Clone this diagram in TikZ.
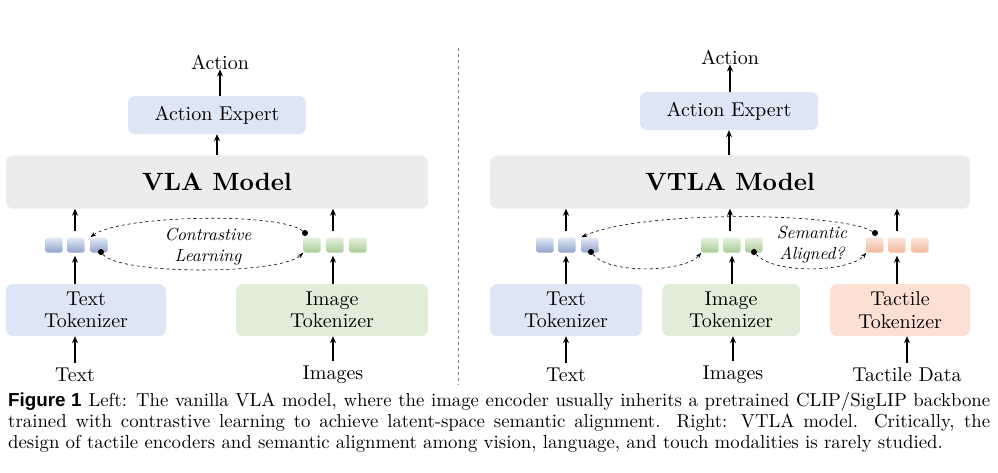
\documentclass[tikz,border=0pt]{standalone}
\usepackage{fontspec}
\setmainfont{lmroman10-regular.otf}[BoldFont=lmroman10-bold.otf,ItalicFont=lmroman10-italic.otf,BoldItalicFont=lmroman10-bolditalic.otf]
\newfontfamily\capsans{Liberation Sans}
\usetikzlibrary{arrows.meta}
\definecolor{bxblue}{HTML}{DDE6F4}
\definecolor{bxgreen}{HTML}{E0EDD8}
\definecolor{bxorange}{HTML}{FBE0D3}
\definecolor{bxgray}{HTML}{ECECEC}
\definecolor{cbT}{HTML}{E4EAF6}\definecolor{cbB}{HTML}{8FA3CC}
\definecolor{cgT}{HTML}{E6F2DE}\definecolor{cgB}{HTML}{A9CD97}
\definecolor{coT}{HTML}{FCE6DA}\definecolor{coB}{HTML}{F2B899}
\begin{document}
\begin{tikzpicture}[x=1pt,y=-1pt,
 box/.style={rounded corners=7pt,draw=none,align=center,font=\fontsize{20}{22.5}\selectfont},
 lab/.style={font=\fontsize{20}{22}\selectfont,inner sep=0},
 up/.style={-{Stealth[length=7pt,width=6pt]},line width=1.5pt},
 dsh/.style={dashed,line width=0.6pt,-{Stealth[length=6pt,width=4pt]}},
 dot/.style={circle,fill=black,inner sep=0,minimum size=6pt},
 cb/.style={rounded corners=2pt,minimum width=17pt,minimum height=15pt,inner sep=0},
 cblue/.style={cb,top color=cbT,bottom color=cbB},
 cgreen/.style={cb,top color=cgT,bottom color=cgB},
 corange/.style={cb,top color=coT,bottom color=coB},
 it/.style={font=\fontsize{17.5}{21}\selectfont\itshape,align=center,inner sep=0}]
\useasboundingbox (0,0) rectangle (998,472);
\draw[dashed,gray,line width=0.8pt] (458,48) -- (458,385);
% ---------- left
\node[lab] (actL) at (220,62) {Action};
\node[box,fill=bxblue,minimum width=178pt,minimum height=38pt] (aeL) at (217,115) {Action Expert};
\node[box,fill=bxgray,minimum width=422pt,minimum height=53pt,font=\fontsize{25}{28}\selectfont\bfseries] (vla) at (217,182) {VLA Model};
\node[box,fill=bxblue,minimum width=160pt,minimum height=52pt,text width=150pt] (ttL) at (86,310) {Text\\Tokenizer};
\node[box,fill=bxgreen,minimum width=192pt,minimum height=52pt,text width=180pt] (itL) at (332,310) {Image\\Tokenizer};
\node[lab] (inTL) at (75,375) {Text};
\node[lab] (inIL) at (333,375) {Images};
\foreach \i/\x in {1/54,2/76,3/99}{\node[cblue] (bL\i) at (\x,245) {};}
\foreach \i/\x in {1/312,2/335,3/358}{\node[cgreen] (gL\i) at (\x,245) {};}
\draw[up] (aeL.north -| actL) -- (actL.south);
\draw[up] (vla.north -| aeL) -- (aeL.south);
\draw[up] (bL2.north -| 75,0) ++(0,-6) -- (vla.south -| 75,0);
\draw[up] (gL2.north -| 333,0) ++(0,-6) -- (vla.south -| 333,0);
\draw[up] (ttL.north -| 75,0) -- ([yshift=-3pt]bL2.south -| 75,0);
\draw[up] (itL.north -| 333,0) -- ([yshift=-3pt]gL2.south -| 333,0);
\draw[up] (inTL.north) ++(0,-5) -- (ttL.south -| inTL);
\draw[up] (inIL.north) ++(0,-5) -- (itL.south -| inIL);
\node[dot] (d1) at (101,252) {};
\node[dot] (d2) at (305,233) {};
\draw[dsh] (d1) .. controls (120,275) and (280,275) .. (gL1.south west);
\draw[dsh] (d2) .. controls (280,212) and (120,215) .. (bL3.north west);
\node[it] (cl) at (208,247) {Contrastive\\Learning};
% ---------- right
\node[lab] (actR) at (730,57) {Action};
\node[box,fill=bxblue,minimum width=178pt,minimum height=38pt] (aeR) at (729,111) {Action Expert};
\node[box,fill=bxgray,minimum width=480pt,minimum height=53pt,font=\fontsize{25}{28}\selectfont\bfseries] (vtla) at (730,182) {VTLA Model};
\node[box,fill=bxblue,minimum width=152pt,minimum height=52pt,text width=140pt] (ttR) at (566,310) {Text\\Tokenizer};
\node[box,fill=bxgreen,minimum width=138pt,minimum height=52pt,text width=130pt] (itR) at (731,310) {Image\\Tokenizer};
\node[box,fill=bxorange,minimum width=140pt,minimum height=52pt,text width=130pt] (tcR) at (900,310) {Tactile\\Tokenizer};
\node[lab] (inTR) at (566,375) {Text};
\node[lab] (inIR) at (733,375) {Images};
\node[lab] (inCR) at (907,375) {Tactile Data};
\foreach \i/\x in {1/545,2/567,3/590}{\node[cblue] (bR\i) at (\x,245) {};}
\foreach \i/\x in {1/710,2/732,3/754}{\node[cgreen] (gR\i) at (\x,245) {};}
\foreach \i/\x in {1/875,2/897,3/920}{\node[corange] (oR\i) at (\x,245) {};}
\draw[up] (aeR.north -| actR) -- (actR.south);
\draw[up] (vtla.north -| aeR) -- (aeR.south);
\foreach \n/\x in {bR2/566,gR2/730,oR2/897}{\draw[up] (\n.north -| \x,0) ++(0,-6) -- (vtla.south -| \x,0);}
\draw[up] (ttR.north -| 566,0) -- ([yshift=-3pt]bR2.south -| 566,0);
\draw[up] (itR.north -| 732,0) -- ([yshift=-3pt]gR2.south -| 732,0);
\draw[up] (tcR.north -| 897,0) -- ([yshift=-3pt]oR2.south -| 897,0);
\draw[up] (inTR.north) ++(0,-5) -- (ttR.south -| inTR);
\draw[up] (inIR.north) ++(0,-5) -- (itR.south -| inIR);
\draw[up] (inCR.north) ++(0,-5) -- (tcR.south -| inCR);
\node[dot] (d3) at (591,252) {};
\node[dot] (d4) at (754,252) {};
\node[dot] (d5) at (875,233) {};
\draw[dsh] (d3) .. controls (610,275) and (685,272) .. (gR1.south west);
\draw[dsh] (d4) .. controls (775,275) and (850,272) .. (oR1.south west);
\draw[dsh] (d5) .. controls (840,212) and (640,210) .. (bR3.north west);
\node[it] (sa) at (812,245) {Semantic\\Aligned?};
% ---------- caption
\node[anchor=north west,inner sep=0,text width=982pt,align=justify,font=\fontsize{18.8}{21}\selectfont] (cap) at (8,392)
{{\capsans\bfseries Figure 1}\hspace{7pt}Left: The vanilla VLA model, where the image encoder usually inherits a pretrained CLIP/SigLIP backbone\linebreak
trained with contrastive learning to achieve latent-space semantic alignment. Right: VTLA model. Critically, the\linebreak
design of tactile encoders and semantic alignment among vision, language, and touch modalities is rarely studied.};
\end{tikzpicture}
\end{document}
